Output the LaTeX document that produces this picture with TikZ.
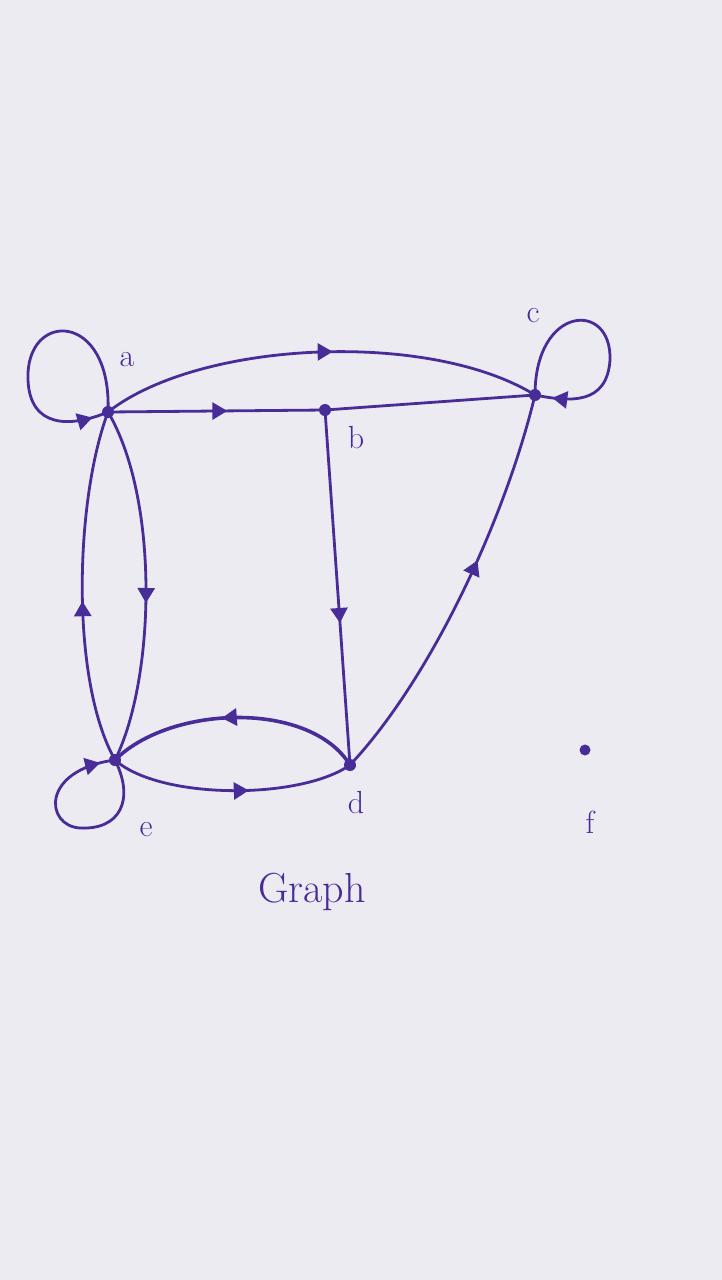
\documentclass[tikz,border=0pt]{standalone}
\usetikzlibrary{arrows.meta,decorations.markings}
\definecolor{ink}{RGB}{72,44,152}
\definecolor{paper}{RGB}{236,235,241}
\tikzset{
  edge/.style={draw=ink,line width=2.8pt},
  midarrow/.style={postaction={decorate},decoration={markings,
     mark=at position #1 with {\arrow{Triangle[length=15pt,width=17pt]}}}},
  vdot/.style={circle,fill=ink,inner sep=0pt,minimum size=12pt},
  lbl/.style={text=ink,font=\fontsize{32}{36}\selectfont},
}
\begin{document}
\begin{tikzpicture}[x=1pt,y=-1pt]
\fill[paper] (0,0) rectangle (722,1280);
\useasboundingbox (0,0) rectangle (722,1280);
% vertices
\node[vdot] (a) at (108,412) {};
\node[vdot] (b) at (325,410) {};
\node[vdot] (c) at (535,395) {};
\node[vdot] (d) at (350,765) {};
\node[vdot] (e) at (115,760) {};
\node[vdot,minimum size=11pt] (f) at (585,750) {};
% labels
\node[lbl] (la) at (127,360) {a};
\node[lbl] (lb) at (356,438) {b};
\node[lbl] (lc) at (533,316) {c};
\node[lbl] (ld) at (356,803) {d};
\node[lbl] (le) at (146,830) {e};
\node[lbl] (lf) at (590,822) {f};
\node[lbl,font=\fontsize{42}{48}\selectfont] (lg) at (312,892) {Graph};
% edges
\draw[edge,midarrow=0.94] (a.center) .. controls (112,310) and (25,310) .. (28,380)
   .. controls (30,428) and (70,428) .. (a.center);
\draw[edge,midarrow=0.53] (a.center) .. controls (200,340) and (430,330) .. (c.center);
\draw[edge,midarrow=0.55] (a.center) -- (b.center);
\draw[edge] (b.center) -- (c.center);
\draw[edge,midarrow=0.93] (c.center) .. controls (535,305) and (612,300) .. (610,360)
   .. controls (607,405) and (570,402) .. (c.center);
\draw[edge,midarrow=0.6] (b.center) -- (d.center);
\draw[edge,midarrow=0.58] (d.center) .. controls (430,680) and (505,520) .. (c.center);
\draw[edge,midarrow=0.55] (a.center) .. controls (160,500) and (155,680) .. (e.center);
\draw[edge,midarrow=0.46] (e.center) .. controls (70,680) and (75,500) .. (a.center);
\draw[edge,midarrow=0.57] (e.center) .. controls (160,800) and (300,800) .. (d.center);
\draw[edge,line width=3.6pt,midarrow=0.55] (d.center) .. controls (310,700) and (170,705) .. (e.center);
\draw[edge,midarrow=0.93] (e.center) .. controls (135,800) and (120,830) .. (80,828)
   .. controls (45,826) and (40,770) .. (e.center);
\end{tikzpicture}
\end{document}
